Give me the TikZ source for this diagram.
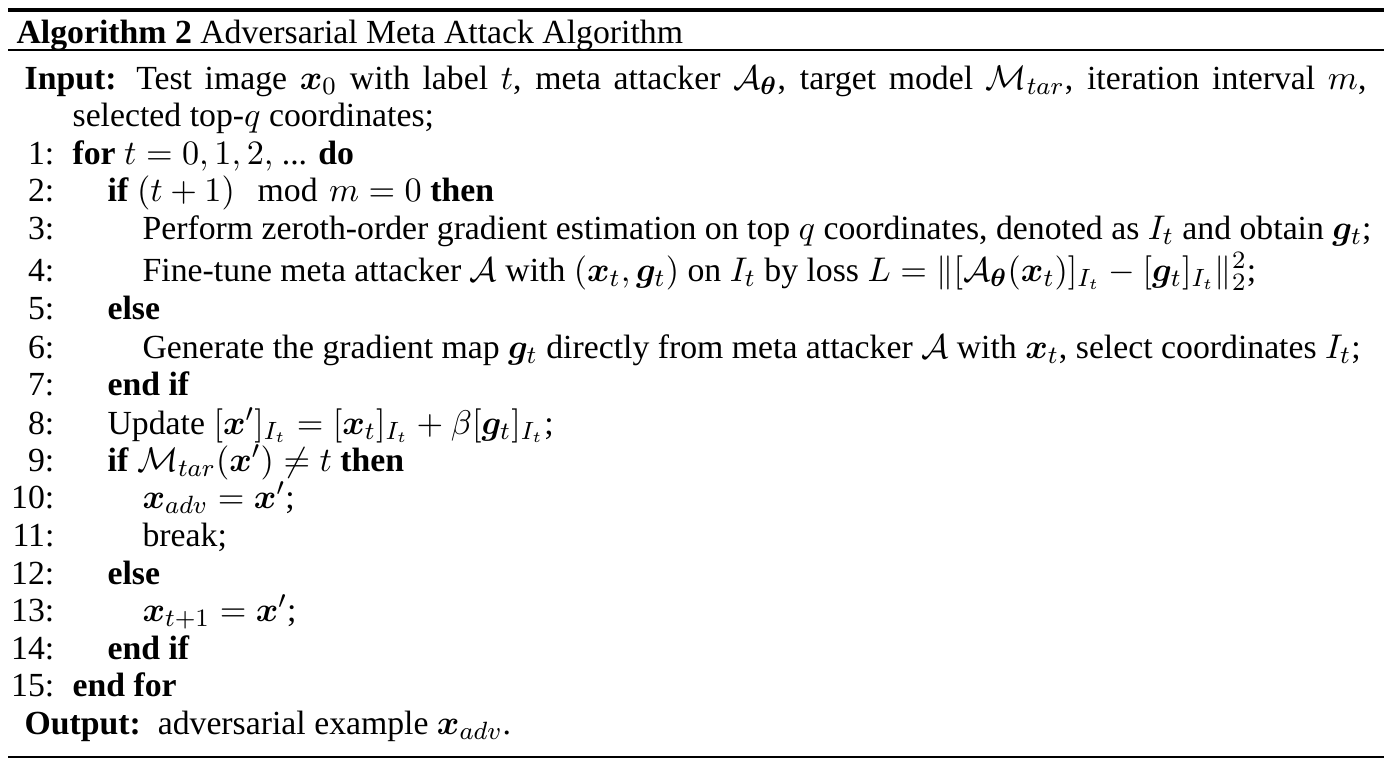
\documentclass[tikz,border=0pt]{standalone}
\usepackage{amsmath,bm}
\usepackage{fontspec}
\setmainfont{Liberation Serif}
\begin{document}
\begin{tikzpicture}[x=0.32pt,y=-0.32pt,
  txt/.style={anchor=base west,inner sep=0pt,font=\fontsize{10.8}{13}\selectfont},
  num/.style={anchor=base east,inner sep=0pt,font=\fontsize{10.8}{13}\selectfont}]
\useasboundingbox (0,0) rectangle (1392,770);
\draw[line width=1.2pt] (8,10) -- (1384,10);
\draw[line width=0.4pt] (8,50) -- (1384,50);
\draw[line width=0.4pt] (8,757) -- (1384,757);
\node[txt] (title) at (16,43) {\textbf{Algorithm 2} Adversarial Meta Attack Algorithm};
\node[txt] (in1) at (24,89) {\hbox to 429.4pt{\textbf{Input:} Test image $\bm{x}_0$ with label $t$, meta attacker $\mathcal{A}_{\bm{\theta}}$, target model $\mathcal{M}_{tar}$, iteration interval $m$,}};
\node[txt] (in2) at (72,126) {selected top-$q$ coordinates;};
\node[num] (n1) at (55,164) {1:}; \node[txt] (l1) at (72,164) {\textbf{for} $t=0,1,2,$ ... \textbf{do}};
\node[num] (n2) at (55,201) {2:}; \node[txt] (l2) at (107,201) {\textbf{if} $(t+1)\mod m=0$ \textbf{then}};
\node[num] (n3) at (55,239) {3:}; \node[txt] (l3) at (142,239) {Perform zeroth-order gradient estimation on top $q$ coordinates, denoted as $I_t$ and obtain $\bm{g}_t$;};
\node[num] (n4) at (55,281) {4:}; \node[txt] (l4) at (142,281) {Fine-tune meta attacker $\mathcal{A}$ with $(\bm{x}_t,\bm{g}_t)$ on $I_t$ by loss $L=\|[\mathcal{A}_{\bm{\theta}}(\bm{x}_t)]_{I_t}-[\bm{g}_t]_{I_t}\|_2^2$;};
\node[num] (n5) at (55,319) {5:}; \node[txt] (l5) at (107,319) {\textbf{else}};
\node[num] (n6) at (55,358) {6:}; \node[txt] (l6) at (142,358) {Generate the gradient map $\bm{g}_t$ directly from meta attacker $\mathcal{A}$ with $\bm{x}_t$, select coordinates $I_t$;};
\node[num] (n7) at (55,395) {7:}; \node[txt] (l7) at (107,395) {\textbf{end if}};
\node[num] (n8) at (55,434) {8:}; \node[txt] (l8) at (107,434) {Update $[\bm{x}']_{I_t}=[\bm{x}_t]_{I_t}+\beta[\bm{g}_t]_{I_t}$;};
\node[num] (n9) at (55,471) {9:}; \node[txt] (l9) at (107,471) {\textbf{if} $\mathcal{M}_{tar}(\bm{x}')\neq t$ \textbf{then}};
\node[num] (n10) at (55,508) {10:}; \node[txt] (l10) at (142,508) {$\bm{x}_{adv}=\bm{x}'$;};
\node[num] (n11) at (55,546) {11:}; \node[txt] (l11) at (142,546) {break;};
\node[num] (n12) at (55,584) {12:}; \node[txt] (l12) at (107,584) {\textbf{else}};
\node[num] (n13) at (55,621) {13:}; \node[txt] (l13) at (142,621) {$\bm{x}_{t+1}=\bm{x}'$;};
\node[num] (n14) at (55,659) {14:}; \node[txt] (l14) at (107,659) {\textbf{end if}};
\node[num] (n15) at (55,696) {15:}; \node[txt] (l15) at (72,696) {\textbf{end for}};
\node[txt] (out) at (24,734) {\textbf{Output:}\ \ adversarial example $\bm{x}_{adv}$.};
\end{tikzpicture}
\end{document}
